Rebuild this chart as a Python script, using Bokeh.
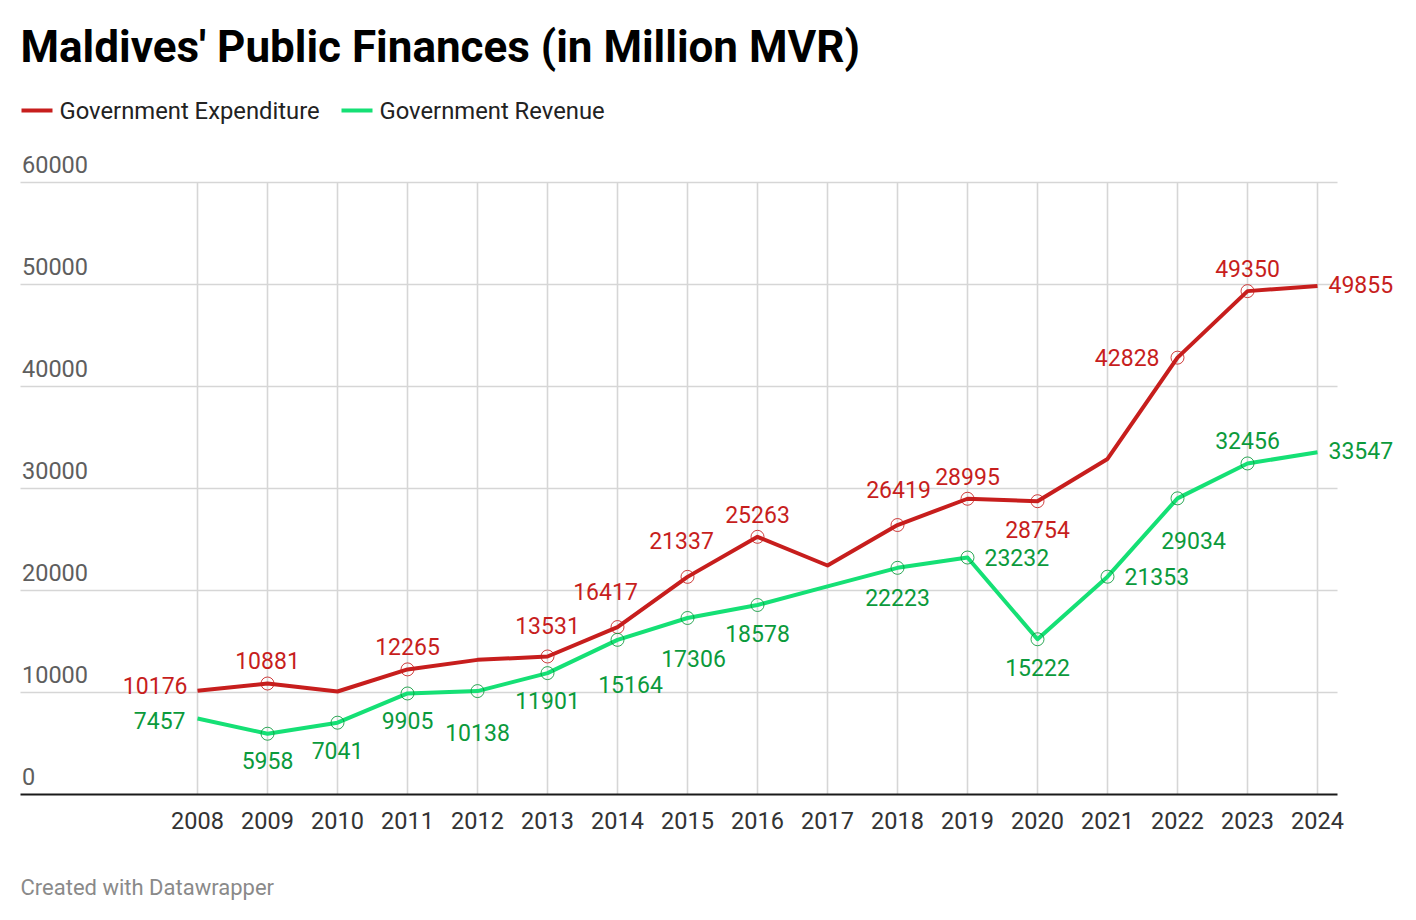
from bokeh.plotting import figure
from bokeh.models import Range1d, ColumnDataSource
from bokeh.core.properties import value
from bokeh.embed import file_html
from bokeh.resources import INLINE

# ---- data (million MVR) ----
years = list(range(2008, 2025))
expenditure = [10176, 10881, 10100, 12265, 13200, 13531, 16417, 21337, 25263,
               22450, 26419, 28995, 28754, 32900, 42828, 49350, 49855]
revenue = [7457, 5958, 7041, 9905, 10138, 11901, 15164, 17306, 18578,
           20400, 22223, 23232, 15222, 21353, 29034, 32456, 33547]
y_ticks = [0, 10000, 20000, 30000, 40000, 50000, 60000]

title_text = "Maldives' Public Finances (in Million MVR)"
series_names = ["Government Expenditure", "Government Revenue"]
footer_text = "Created with Datawrapper"

# value-label placement per year: (align, dx px, dy px) or None for no label
exp_label_place = [("right", -10, -5), ("center", 0, -23), None, ("center", 0, -23), None,
                   ("center", 0, -31), ("center", -12, -36), ("center", -6, -36),
                   ("center", 0, -22), None, ("center", 1, -36), ("center", 0, -22),
                   ("center", 0, 28), None, ("right", -18, 0), ("center", 0, -23),
                   ("left", 11, -1)]
rev_label_place = [("right", -12, 2), ("center", 0, 27), ("center", 0, 28), ("center", 0, 27),
                   ("center", 0, 41), ("center", 0, 27), ("center", 13, 45), ("center", 6, 41),
                   ("center", 0, 28), None, ("center", 0, 30), ("left", 17, 0),
                   ("center", 0, 28), ("left", 17, 0), ("center", 16, 42), ("center", 0, -23),
                   ("left", 11, -2)]

# ---- canvas geometry ----
W, H = 1416, 920
X0_PX, X_STEP = 197, 70            # pixel of first year, pixels per year
Y0_PX, Y_SCALE = 794, 612 / 60000  # pixel of zero, pixels per unit

def px_x(px):
    return years[0] + (px - X0_PX) / X_STEP

def px_y(py):
    return (Y0_PX - py) / Y_SCALE

FONT = value("Roboto")
RED, RED_LABEL = "#c71e1d", "#c71e1d"
GREEN, GREEN_LABEL = "#15e075", "#0b9a3c"

p = figure(width=W, height=H, output_backend="svg", toolbar_location=None,
           x_axis_type=None, y_axis_type=None, title=None,
           x_range=Range1d(px_x(0), px_x(W)), y_range=Range1d(px_y(H), px_y(0)),
           min_border=0, outline_line_color=None, background_fill_color="white",
           border_fill_color="white")

grid_left, grid_right = px_x(20), px_x(1337)

# grid
p.segment(x0=[grid_left] * (len(y_ticks) - 1), x1=[grid_right] * (len(y_ticks) - 1),
          y0=y_ticks[1:], y1=y_ticks[1:], line_color="#d6d6d6", line_width=1.6)
p.segment(x0=years, x1=years, y0=[0] * len(years), y1=[y_ticks[-1]] * len(years),
          line_color="#d6d6d6", line_width=1.6)
p.segment(x0=[grid_left], x1=[grid_right], y0=[0], y1=[0],
          line_color="#1a1a1a", line_width=2)

# y tick labels sit just above their grid lines
p.text(x=[grid_left + 1.5 / X_STEP] * len(y_ticks), y=y_ticks, text=[str(t) for t in y_ticks],
       text_font=FONT, text_font_size="23.5px", text_color="#5e5e5e",
       text_align="left", text_baseline="middle", y_offset=-18.5)

# x tick labels
p.text(x=years, y=[0] * len(years), text=[str(y) for y in years],
       text_font=FONT, text_font_size="23.5px", text_color="#333333",
       text_align="center", text_baseline="middle", y_offset=26)

# series
def draw_series(vals, places, line_color, label_color):
    p.line(years, vals, line_color=line_color, line_width=4, line_join="round")
    mx = [y for y, v, pl in zip(years, vals, places)
          if pl is not None and y not in (years[0], years[-1])]
    my = [v for y, v, pl in zip(years, vals, places)
          if pl is not None and y not in (years[0], years[-1])]
    p.scatter(mx, my, marker="circle", size=13, fill_alpha=0,
              line_color=label_color, line_width=1, line_alpha=0.85)
    for align in ("left", "center", "right"):
        rows = [(y, v, pl) for y, v, pl in zip(years, vals, places)
                if pl is not None and pl[0] == align]
        if not rows:
            continue
        src = ColumnDataSource(dict(
            x=[r[0] for r in rows], y=[r[1] for r in rows],
            t=[str(r[1]) for r in rows],
            dx=[r[2][1] for r in rows], dy=[r[2][2] for r in rows]))
        p.text(x="x", y="y", text="t", x_offset="dx", y_offset="dy", source=src,
               text_font=FONT, text_font_size="23px", text_color=label_color,
               text_align=align, text_baseline="middle")

draw_series(expenditure, exp_label_place, RED, RED_LABEL)
draw_series(revenue, rev_label_place, GREEN, GREEN_LABEL)

# title
p.text(x=[px_x(20)], y=[px_y(46)], text=[title_text], text_font=FONT,
       text_font_size="44px", text_font_style="bold", text_color="#000000",
       text_align="left", text_baseline="middle")

# legend
leg_y = px_y(110)
p.segment(x0=[px_x(21), px_x(341)], x1=[px_x(52), px_x(372)], y0=[leg_y, leg_y],
          y1=[leg_y, leg_y], line_color=[RED, GREEN], line_width=4)
p.text(x=[px_x(59), px_x(379)], y=[leg_y, leg_y], text=series_names, text_font=FONT,
       text_font_size="23.8px", text_color="#222222", text_align="left",
       text_baseline="middle")

# footer
p.text(x=[px_x(20)], y=[px_y(887)], text=[footer_text], text_font=FONT,
       text_font_size="22px", text_color="#8a8a8a", text_align="left",
       text_baseline="middle")

open("out.html", "w").write(file_html(p, INLINE))
